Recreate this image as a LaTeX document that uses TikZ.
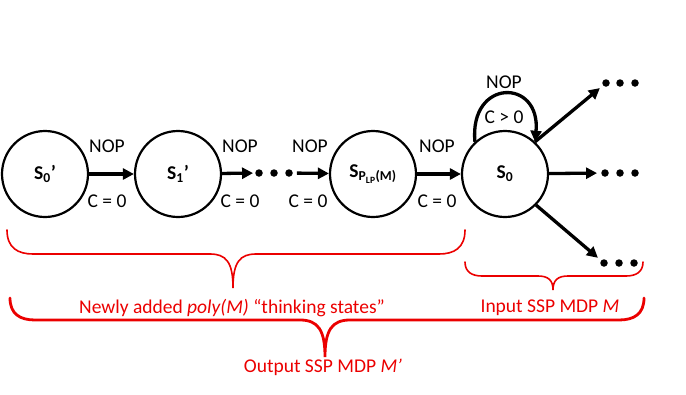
\documentclass[tikz,border=0pt]{standalone}
\usepackage{fontspec}
\setmainfont{Carlito}
\usetikzlibrary{arrows.meta}
\definecolor{bred}{RGB}{235,0,0}
\begin{document}
\begin{tikzpicture}[x=1pt,y=-1pt,
  state/.style={circle,draw,line width=2.2pt,minimum size=86pt,inner sep=0pt,font=\fontsize{19.5}{22}\selectfont\bfseries},
  lab/.style={font=\fontsize{19.5}{22}\selectfont,inner sep=0pt},
  rlab/.style={font=\fontsize{19.5}{22}\selectfont,inner sep=0pt,text=bred},
  dotn/.style={circle,fill,inner sep=0pt,minimum size=7.5pt},
  arr/.style={line width=3.3pt,-{Triangle[length=11pt,width=11pt]}},
  brace/.style={draw=bred,line width=1.6pt,line cap=round},
  bigbrace/.style={draw=bred,line width=2.8pt,line cap=round}]
\useasboundingbox (0,0) rectangle (686,394);
% states
\node[state] (a) at (45,174) {S\textsubscript{0}’};
\node[state] (b) at (178,174) {S\textsubscript{1}’};
\node[state] (p) at (373,174) {S\textsubscript{P\textsubscript{LP}(M)}};
\node[state] (s) at (505,174) {S\textsubscript{0}};
% dots
\node[dotn] (d1) at (259,173) {};
\node[dotn] (d2) at (274,173) {};
\node[dotn] (d3) at (289,173) {};
\node[dotn] (t1) at (606,83) {};
\node[dotn] (t2) at (620,83) {};
\node[dotn] (t3) at (635,83) {};
\node[dotn] (m1) at (605,173) {};
\node[dotn] (m2) at (620,173) {};
\node[dotn] (m3) at (635,173) {};
\node[dotn] (u1) at (604,263) {};
\node[dotn] (u2) at (619,263) {};
\node[dotn] (u3) at (634,263) {};
% arrows
\draw[arr] (a) -- (b);
\draw[arr,shorten >=2pt] (b) -- (d1);
\draw[arr,shorten <=4pt] (d3) -- (p);
\draw[arr] (p) -- (s);
\draw[arr,shorten >=4pt] (s.47) -- (t1);
\draw[arr,shorten >=4pt] (s) -- (m1);
\draw[arr,shorten >=4pt] (s.-45) -- (u1);
\draw[arr] (s.133) .. controls (469,78) and (541,78) .. (s.47);
% labels
\node[lab] (n1) at (107,146) {NOP};
\node[lab] (c1) at (107,201) {C = 0};
\node[lab] (n2) at (240,146) {NOP};
\node[lab] (c2) at (240,201) {C = 0};
\node[lab] (n3) at (310,146) {NOP};
\node[lab] (c3) at (308,201) {C = 0};
\node[lab] (n4) at (437,146) {NOP};
\node[lab] (c4) at (437,201) {C = 0};
\node[lab] (n5) at (504,82) {NOP};
\node[lab] (c5) at (504,117) {C > 0};
% braces
\draw[brace] (7,230) .. controls (7,248) and (18,254) .. (33,254) -- (210,254)
  .. controls (226,254) and (233,262) .. (233,288)
  .. controls (233,262) and (240,254) .. (256,254) -- (439,254)
  .. controls (454,254) and (465,248) .. (465,230);
\draw[brace] (465,262) .. controls (465,272) and (472,276) .. (482,276) -- (538,276)
  .. controls (548,276) and (553,280) .. (553,290)
  .. controls (553,280) and (558,276) .. (568,276) -- (626,276)
  .. controls (636,276) and (643,272) .. (643,262);
\draw[bigbrace] (10,298) .. controls (10,314) and (20,320) .. (35,320) -- (300,320)
  .. controls (318,320) and (325,330) .. (325,357)
  .. controls (325,330) and (332,320) .. (350,320) -- (619,320)
  .. controls (634,320) and (644,314) .. (644,298);
\node[rlab] (tn) at (232,308) {Newly added \textit{poly(M)} “thinking states”};
\node[rlab] (ti) at (550,308) {Input SSP MDP \textit{M}};
\node[rlab] (to) at (323,367) {Output SSP MDP \textit{M’}};
\end{tikzpicture}
\end{document}
